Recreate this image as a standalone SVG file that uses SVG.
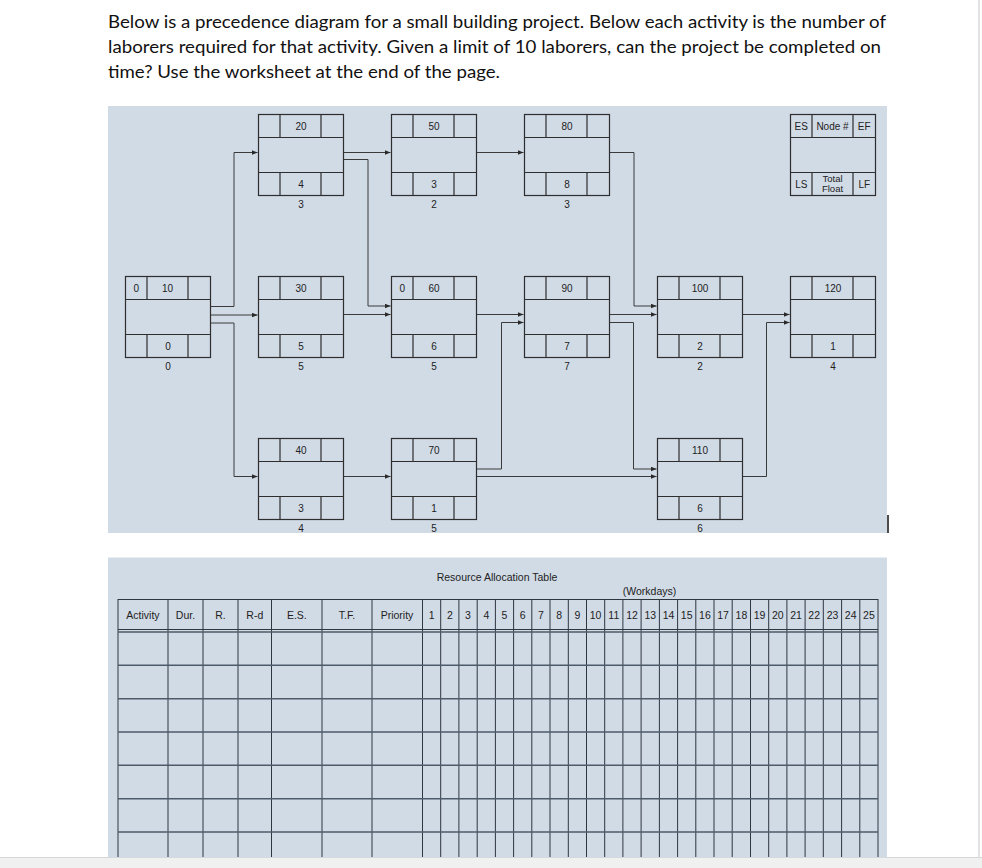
<svg xmlns="http://www.w3.org/2000/svg" width="982" height="868" viewBox="0 0 982 868">
<defs>
<style>
.title{font-family:Lato,"Liberation Sans",sans-serif;font-size:18px;fill:#111}
.panel{fill:#d1dbe6}
.box{fill:none;stroke:#2e2e2e;stroke-width:1.2}
.t{font-family:"Liberation Sans",Arial,sans-serif;font-size:10px;fill:#222;text-anchor:middle}
.th{font-family:"Liberation Sans",Arial,sans-serif;font-size:10.5px;fill:#222;text-anchor:middle}
.conn{fill:none;stroke:#3a3a3a;stroke-width:1}
.vl{fill:none;stroke:#2e3640;stroke-width:1}
.hl{fill:none;stroke:#4d5b69;stroke-width:1.6}
</style>
<marker id="arr" markerUnits="userSpaceOnUse" markerWidth="7" markerHeight="5" refX="6" refY="2.5" orient="auto">
<path d="M0,0 L6,2.5 L0,5 z" fill="#2a2a2a"/>
</marker>
<g id="cell">
<rect class="box" x="0" y="0" width="85" height="81"/>
<path class="box" d="M0,23 H85 M0,58 H85 M21.5,0 V23 M62.5,0 V23 M21.5,58 V81 M62.5,58 V81"/>
</g>
</defs>

<rect x="0" y="0" width="982" height="868" fill="#ffffff"/>
<line x1="979" y1="0" x2="979" y2="858" stroke="#c8c8c8" stroke-width="1"/>
<rect x="0" y="857.5" width="982" height="10.5" fill="#f0f0f0"/>
<line x1="0" y1="857.5" x2="982" y2="857.5" stroke="#d6d6d6" stroke-width="1"/>

<text class="title" x="108" y="28" textLength="778" lengthAdjust="spacingAndGlyphs">Below is a precedence diagram for a small building project. Below each activity is the number of</text>
<text class="title" x="108" y="53" textLength="773" lengthAdjust="spacingAndGlyphs">laborers required for that activity. Given a limit of 10 laborers, can the project be completed on</text>
<text class="title" x="108" y="78" textLength="392" lengthAdjust="spacingAndGlyphs">time? Use the worksheet at the end of the page.</text>

<rect class="panel" x="108" y="106" width="779" height="427"/>
<line x1="888" y1="515" x2="888" y2="533" stroke="#111" stroke-width="1.5"/>

<g id="connectors">
<path class="conn" marker-end="url(#arr)" d="M210.5,306.5 H234 V152.5 H257.5"/>
<path class="conn" marker-end="url(#arr)" d="M210.5,315 H257.5"/>
<path class="conn" marker-end="url(#arr)" d="M210.5,323 H234 V476.5 H257.5"/>
<path class="conn" marker-end="url(#arr)" d="M343.5,152.5 H390.5"/>
<path class="conn" marker-end="url(#arr)" d="M343.5,159.5 H368 V306 H390.5"/>
<path class="conn" marker-end="url(#arr)" d="M343.5,314.5 H390.5"/>
<path class="conn" marker-end="url(#arr)" d="M343.5,476.5 H390.5"/>
<path class="conn" marker-end="url(#arr)" d="M476.5,152.5 H523.5"/>
<path class="conn" marker-end="url(#arr)" d="M476.5,314.5 H523.5"/>
<path class="conn" marker-end="url(#arr)" d="M476.5,469 H501.5 V322.5 H523.5"/>
<path class="conn" marker-end="url(#arr)" d="M476.5,476.5 H656.5"/>
<path class="conn" marker-end="url(#arr)" d="M609.5,152.5 H634 V306 H656.5"/>
<path class="conn" marker-end="url(#arr)" d="M609.5,314.5 H656.5"/>
<path class="conn" marker-end="url(#arr)" d="M609.5,322.5 H633.5 V469 H656.5"/>
<path class="conn" marker-end="url(#arr)" d="M742.5,314.5 H789.5"/>
<path class="conn" marker-end="url(#arr)" d="M742.5,476.5 H766.5 V322.5 H789.5"/>
</g>

<g id="node-20" transform="translate(258.5,114.5)">
<use href="#cell"/>
<text class="t" x="42.5" y="15.5">20</text><text class="t" x="42.5" y="73">4</text><text class="t" x="42.5" y="93">3</text>
</g>
<g id="node-50" transform="translate(391.5,114.5)">
<use href="#cell"/>
<text class="t" x="42.5" y="15.5">50</text><text class="t" x="42.5" y="73">3</text><text class="t" x="42.5" y="93">2</text>
</g>
<g id="node-80" transform="translate(524.5,114.5)">
<use href="#cell"/>
<text class="t" x="42.5" y="15.5">80</text><text class="t" x="42.5" y="73">8</text><text class="t" x="42.5" y="93">3</text>
</g>
<g id="legend" transform="translate(790.5,114.5)">
<use href="#cell"/>
<text class="t" x="10.75" y="15.5">ES</text><text class="t" x="42" y="15.5">Node #</text><text class="t" x="73.75" y="15.5">EF</text>
<text class="t" x="10.75" y="73">LS</text><text class="t" x="73.75" y="73">LF</text>
<text class="t" x="42" y="67.5" style="font-size:9.5px">Total</text><text class="t" x="42" y="77" style="font-size:9.5px">Float</text>
</g>

<g id="node-10" transform="translate(125.5,276.5)">
<use href="#cell"/>
<text class="t" x="10.75" y="15.5">0</text><text class="t" x="42" y="15.5">10</text><text class="t" x="42.5" y="73">0</text><text class="t" x="42.5" y="93">0</text>
</g>
<g id="node-30" transform="translate(258.5,276.5)">
<use href="#cell"/>
<text class="t" x="42.5" y="15.5">30</text><text class="t" x="42.5" y="73">5</text><text class="t" x="42.5" y="93">5</text>
</g>
<g id="node-60" transform="translate(391.5,276.5)">
<use href="#cell"/>
<text class="t" x="10.75" y="15.5">0</text><text class="t" x="42.5" y="15.5">60</text><text class="t" x="42.5" y="73">6</text><text class="t" x="42.5" y="93">5</text>
</g>
<g id="node-90" transform="translate(524.5,276.5)">
<use href="#cell"/>
<text class="t" x="42.5" y="15.5">90</text><text class="t" x="42.5" y="73">7</text><text class="t" x="42.5" y="93">7</text>
</g>
<g id="node-100" transform="translate(657.5,276.5)">
<use href="#cell"/>
<text class="t" x="42.5" y="15.5">100</text><text class="t" x="42.5" y="73">2</text><text class="t" x="42.5" y="93">2</text>
</g>
<g id="node-120" transform="translate(790.5,276.5)">
<use href="#cell"/>
<text class="t" x="42.5" y="15.5">120</text><text class="t" x="42.5" y="73">1</text><text class="t" x="42.5" y="93">4</text>
</g>

<g id="node-40" transform="translate(258.5,438.5)">
<use href="#cell"/>
<text class="t" x="42.5" y="15.5">40</text><text class="t" x="42.5" y="73">3</text><text class="t" x="42.5" y="93">4</text>
</g>
<g id="node-70" transform="translate(391.5,438.5)">
<use href="#cell"/>
<text class="t" x="42.5" y="15.5">70</text><text class="t" x="42.5" y="73">1</text><text class="t" x="42.5" y="93">5</text>
</g>
<g id="node-110" transform="translate(657.5,438.5)">
<use href="#cell"/>
<text class="t" x="42.5" y="15.5">110</text><text class="t" x="42.5" y="73">6</text><text class="t" x="42.5" y="93">6</text>
</g>

<g id="resource-table">
<rect class="panel" x="108" y="557.5" width="779" height="300"/>
<text class="th" x="497" y="581">Resource Allocation Table</text>
<text class="th" x="649.5" y="595">(Workdays)</text>
<path class="vl" d="M118,599 V857 M168,599 V857 M203,599 V857 M238,599 V857 M271.5,599 V857 M322,599 V857 M372,599 V857 M422.5,599 V857 M440.7,599 V857 M458.9,599 V857 M477.2,599 V857 M495.4,599 V857 M513.6,599 V857 M531.8,599 V857 M550,599 V857 M568.3,599 V857 M586.5,599 V857 M604.7,599 V857 M622.9,599 V857 M641.1,599 V857 M659.4,599 V857 M677.6,599 V857 M695.8,599 V857 M714,599 V857 M732.2,599 V857 M750.5,599 V857 M768.7,599 V857 M786.9,599 V857 M805.1,599 V857 M823.3,599 V857 M841.6,599 V857 M859.8,599 V857 M878,599 V857"/>
<path class="vl" d="M118,599.5 H878 M118,629.5 H878"/>
<path class="hl" d="M118,632 H878 M118,665.3 H878 M118,698.7 H878 M118,732 H878 M118,765.3 H878 M118,798.7 H878 M118,832 H878"/>
<text class="th" x="143" y="619">Activity</text>
<text class="th" x="185.5" y="619">Dur.</text>
<text class="th" x="220.5" y="619">R.</text>
<text class="th" x="254.8" y="619">R-d</text>
<text class="th" x="296.8" y="619">E.S.</text>
<text class="th" x="347" y="619">T.F.</text>
<text class="th" x="397" y="619">Priority</text>
<text class="th" x="431.6" y="619">1</text>
<text class="th" x="449.8" y="619">2</text>
<text class="th" x="468" y="619">3</text>
<text class="th" x="486.3" y="619">4</text>
<text class="th" x="504.5" y="619">5</text>
<text class="th" x="522.7" y="619">6</text>
<text class="th" x="540.9" y="619">7</text>
<text class="th" x="559.2" y="619">8</text>
<text class="th" x="577.4" y="619">9</text>
<text class="th" x="595.6" y="619">10</text>
<text class="th" x="613.8" y="619">11</text>
<text class="th" x="632" y="619">12</text>
<text class="th" x="650.3" y="619">13</text>
<text class="th" x="668.5" y="619">14</text>
<text class="th" x="686.7" y="619">15</text>
<text class="th" x="704.9" y="619">16</text>
<text class="th" x="723.1" y="619">17</text>
<text class="th" x="741.4" y="619">18</text>
<text class="th" x="759.6" y="619">19</text>
<text class="th" x="777.8" y="619">20</text>
<text class="th" x="796" y="619">21</text>
<text class="th" x="814.2" y="619">22</text>
<text class="th" x="832.5" y="619">23</text>
<text class="th" x="850.7" y="619">24</text>
<text class="th" x="868.9" y="619">25</text>
</g>
</svg>
